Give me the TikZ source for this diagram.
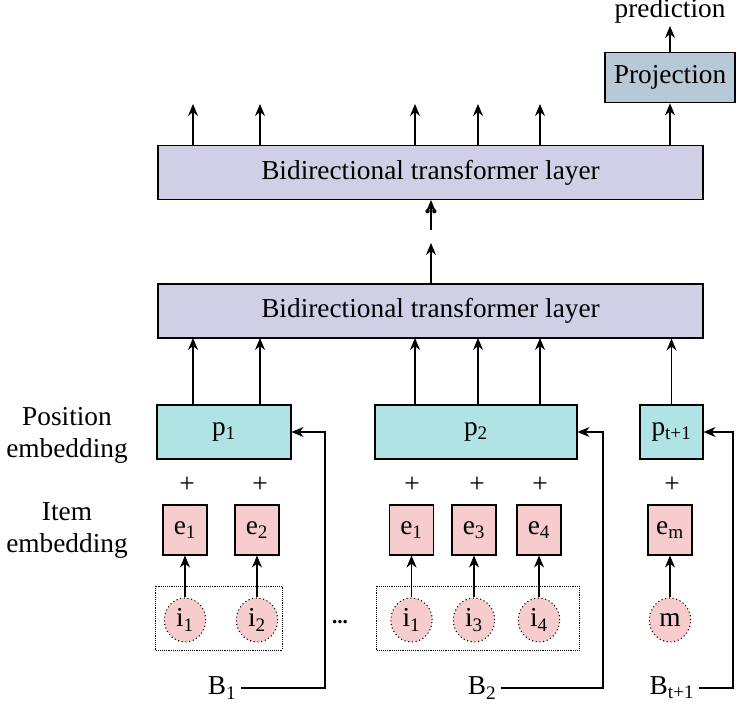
\documentclass[tikz,border=0pt]{standalone}
\usepackage{fontspec}
\setmainfont{Liberation Serif}
\usetikzlibrary{arrows.meta,shapes.geometric}
\newcommand{\sbs}[1]{\textsubscript{#1}}
\begin{document}
\begin{tikzpicture}[x=0.75pt,y=-0.75pt,
  fnt/.style={font=\fontsize{20.5}{24}\selectfont},
  lay/.style={draw,line width=0.8pt,minimum height=40.5pt,inner sep=0pt,fnt},
  pbox/.style={draw,line width=0.8pt,minimum height=40.5pt,inner sep=0pt,fnt},
  ebox/.style={draw,line width=0.8pt,minimum width=33pt,minimum height=37.5pt,inner sep=0pt,fnt},
  circ/.style={draw,dotted,line width=0.8pt,ellipse,minimum width=31pt,minimum height=33pt,inner sep=0pt,fnt},
  lbl/.style={fnt,align=center},
  arr/.style={-{Stealth[length=9pt,width=7.5pt]},line width=0.9pt}]
\useasboundingbox (0,0) rectangle (740,704);
\definecolor{lay}{HTML}{D0CFE5}\definecolor{proj}{HTML}{B7C8D6}
\definecolor{pc}{HTML}{B0E3E3}\definecolor{ec}{HTML}{F6CCCC}
% layers
\node[lay,fill=lay,minimum width=408.75pt] (L1) at (430.5,311) {Bidirectional transformer layer};
\node[lay,fill=lay,minimum width=408.75pt] (L2) at (430.5,172.5) {Bidirectional transformer layer};
\node[lay,fill=proj,minimum width=97.5pt,minimum height=38pt] (P) at (670,77.5) {Projection};
\node[lbl] (pred) at (670,11) {prediction};
\coordinate (pt) at (670,26);
\draw[arr] (P.north) -- (pt);
\draw[arr] (670,145) -- (P.south);
\foreach \x/\n in {193/a,260/b,415/c,478/d,540/e}{
  \coordinate (t\n) at (\x,104);
  \draw[arr] (\x,145) -- (t\n);
}
% middle
\coordinate (m1) at (431,243);
\coordinate (m2) at (431,230);
\node[font=\bfseries\fontsize{20}{20}\selectfont,inner sep=0pt] (dots) at (431,212) {..};
\draw[arr] (431,284) -- (m1);
\draw[arr] (m2) -- (431,200);
% p boxes
\node[pbox,fill=pc,minimum width=100.5pt] (p1) at (224,432) {p\sbs{1}};
\node[pbox,fill=pc,minimum width=151.5pt] (p2) at (476,432) {p\sbs{2}};
\node[pbox,fill=pc,minimum width=47.25pt] (p3) at (671.5,432) {p\sbs{t+1}};
\foreach \x in {193,260}{\draw[arr] (\x,405) -- (\x,338);}
\foreach \x in {415,478,540}{\draw[arr] (\x,405) -- (\x,338);}
\draw[arr] (p3.north) -- (p3.north|-L1.south);
\node[lbl] (posl) at (67,435) {Position\\embedding};
\node[lbl] (iteml) at (67,530) {Item\\embedding};
\foreach \x/\n in {187/a,260/b,412/c,477/d,540/e,672/f}{\node[lbl] (plus\n) at (\x,485) {+};}
% e boxes & items
\foreach \x/\e/\i/\n in {185/1/1/a,257/2/2/b,411.5/1/1/c,474/3/3/d,539/4/4/e}{
  \node[ebox,fill=ec] (e\n) at (\x,530) {e\sbs{\e}};
  \node[circ,fill=ec] (i\n) at (\x,620) {i\sbs{\i}};
  \draw[arr] (i\n.north) -- (e\n.south);
}
\node[ebox,fill=ec] (ef) at (670,530) {e\sbs{m}};
\node[circ,fill=ec] (if) at (670,620) {m};
\draw[arr] (if.north) -- (ef.south);
\draw[densely dotted] (155,586) rectangle (282,650);
\draw[densely dotted] (376,586) rectangle (579,650);
\node[font=\bfseries\fontsize{16}{16}\selectfont] (ell) at (340,622) {...};
% B labels
\node[lbl] (B1) at (222,688) {B\sbs{1}};
\node[lbl] (B2) at (482,688) {B\sbs{2}};
\node[lbl] (B3) at (672,688) {B\sbs{t+1}};
\draw[arr] (B1.east) -- (325,688) -- (325,432) -- (p1.east);
\draw[arr] (B2.east) -- (603,688) -- (603,432) -- (p2.east);
\draw[arr] (B3.east) -- (733,688) -- (733,432) -- (p3.east);
\end{tikzpicture}
\end{document}
